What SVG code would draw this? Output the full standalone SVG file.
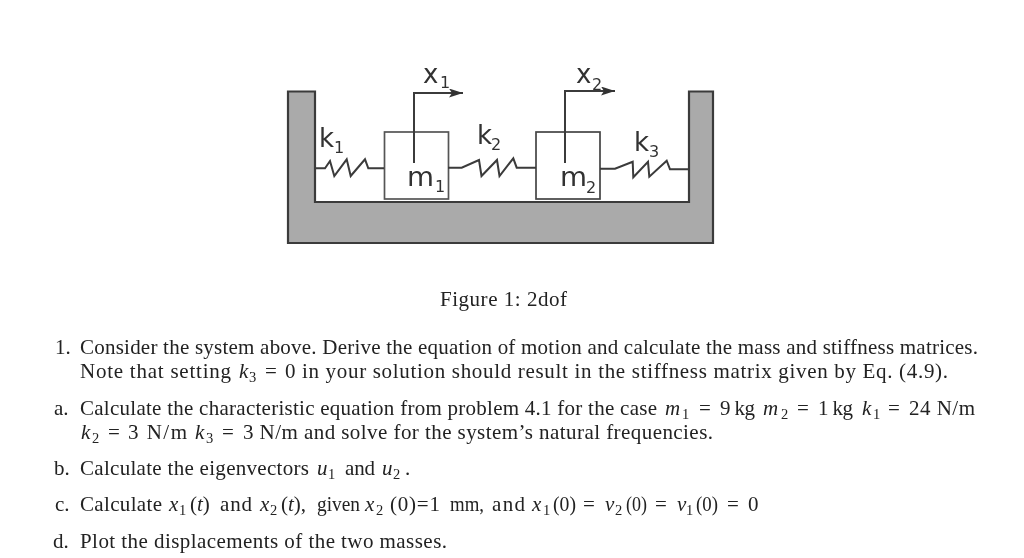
<svg xmlns="http://www.w3.org/2000/svg" width="1024" height="558" viewBox="0 0 1024 558">
<defs>
<filter id="soft" x="-5%" y="-5%" width="110%" height="110%"><feGaussianBlur stdDeviation="0.45"/></filter>
<marker id="arrow" markerUnits="userSpaceOnUse" markerWidth="16" markerHeight="10" refX="14" refY="4.500" orient="auto"><path d="M0,0 L14,4.500 L0,9 L3,4.500 Z" fill="#333"/></marker>
</defs>
<style>
.t{font-family:"Liberation Serif","Times New Roman",serif;font-size:21px;fill:#222}
.i{font-style:italic}
.s{font-family:"Liberation Serif","Times New Roman",serif;font-size:14.5px;fill:#222}
.l{font-family:"DejaVu Sans",sans-serif;font-size:26px;fill:#333}
.ls{font-family:"DejaVu Sans",sans-serif;font-size:16px;fill:#333}
.w{fill:none;stroke:#3a3a3a;stroke-width:2}
</style>
<rect width="1024" height="558" fill="#fff"/>
<g filter="url(#soft)">
<g id="frame"><path d="M288,91.500H315V202H689V91.500H713V243H288Z" fill="#aaa" stroke="#3a3a3a" stroke-width="2.200"/></g>
<g id="mass1"><rect x="384.500" y="132" width="64" height="67" fill="#fff" stroke="#555" stroke-width="1.700"/><text class="l" x="407" y="186" textLength="27" lengthAdjust="spacingAndGlyphs">m</text><text class="ls" x="435" y="192">1</text></g>
<g id="mass2"><rect x="536" y="132" width="64" height="67" fill="#fff" stroke="#444" stroke-width="1.700"/><text class="l" x="560" y="186" textLength="27" lengthAdjust="spacingAndGlyphs">m</text><text class="ls" x="586" y="193">2</text></g>
<g id="connectors">
<path class="w" d="M414,163V93H463" marker-end="url(#arrow)"/>
<path class="w" d="M565,163V91H615" marker-end="url(#arrow)"/>
<path class="w" d="M316,168.300H325L330,161L334.300,176L346.700,159.300L350.700,176L365,159.300L368.300,168.300H384"/>
<path class="w" d="M448,167.700H461.700L479,160L481.500,176L497,160L499.500,176L513.300,158.300L516.700,167.700H536"/>
<path class="w" d="M600,168.700H615L632.700,161.700L633.300,177.300L648,161.700L649.300,176.700L666.700,160.700L670,169.300H689"/>
</g>
<g id="label-x1"><text class="l" x="423" y="83">x</text><text class="ls" x="440" y="88">1</text></g>
<g id="label-x2"><text class="l" x="576" y="83">x</text><text class="ls" x="592" y="90">2</text></g>
<g id="label-k1"><text class="l" x="319" y="147">k</text><text class="ls" x="334" y="153">1</text></g>
<g id="label-k2"><text class="l" x="477" y="144">k</text><text class="ls" x="491" y="150">2</text></g>
<g id="label-k3"><text class="l" x="634" y="151">k</text><text class="ls" x="649" y="157">3</text></g>
</g>
<g id="text" filter="url(#soft)" transform="translate(0,0.7)">
<text class="t" x="440" y="305" textLength="127">Figure 1: 2dof</text>

<text class="t" x="55" y="353">1.</text>
<text class="t" x="80" y="353" textLength="898">Consider the system above. Derive the equation of motion and calculate the mass and stiffness matrices.</text>

<text class="t" x="80" y="377" textLength="151">Note that setting</text>
<text class="t i" x="239" y="377">k</text><text class="s" x="249" y="381">3</text>
<text class="t" x="265" y="377">=</text><text class="t" x="285" y="377">0</text>
<text class="t" x="302" y="377" textLength="646">in your solution should result in the stiffness matrix given by Eq. (4.9).</text>

<text class="t" x="54" y="414">a.</text>
<text class="t" x="80" y="414" textLength="577">Calculate the characteristic equation from problem 4.1 for the case</text>
<text class="t i" x="665" y="414">m</text><text class="s" x="682" y="418">1</text>
<text class="t" x="699" y="414">=</text><text class="t" x="720" y="414" textLength="35">9 kg</text>
<text class="t i" x="763" y="414">m</text><text class="s" x="781" y="418">2</text>
<text class="t" x="797" y="414">=</text><text class="t" x="818" y="414" textLength="35">1 kg</text>
<text class="t i" x="862" y="414">k</text><text class="s" x="873" y="418">1</text>
<text class="t" x="888" y="414">=</text><text class="t" x="909" y="414" textLength="66">24 N/m</text>

<text class="t i" x="81" y="438">k</text><text class="s" x="92" y="442">2</text>
<text class="t" x="108" y="438">=</text><text class="t" x="128" y="438" textLength="59">3 N/m</text>
<text class="t i" x="195" y="438">k</text><text class="s" x="206" y="442">3</text>
<text class="t" x="222" y="438">=</text>
<text class="t" x="243" y="438" textLength="470">3 N/m and solve for the system’s natural frequencies.</text>

<text class="t" x="54" y="474">b.</text>
<text class="t" x="80" y="474" textLength="229">Calculate the eigenvectors</text>
<text class="t i" x="317" y="474">u</text><text class="s" x="328" y="478">1</text>
<text class="t" x="345" y="474" textLength="30">and</text>
<text class="t i" x="382" y="474">u</text><text class="s" x="393" y="478">2</text>
<text class="t" x="405" y="474">.</text>

<text class="t" x="55" y="510">c.</text>
<text class="t" x="80" y="510" textLength="82">Calculate</text>
<text class="t i" x="169" y="510">x</text><text class="s" x="179" y="514">1</text>
<text class="t" x="190" y="510">(<tspan class="i">t</tspan>)</text>
<text class="t" x="220" y="510" textLength="32">and</text>
<text class="t i" x="260" y="510">x</text><text class="s" x="270" y="514">2</text>
<text class="t" x="281" y="510">(<tspan class="i">t</tspan>),</text>
<text class="t" x="317" y="510" textLength="43" lengthAdjust="spacingAndGlyphs">given</text>
<text class="t i" x="365" y="510">x</text><text class="s" x="376" y="514">2</text>
<text class="t" x="390" y="510" textLength="50">(0)=1</text>
<text class="t" x="450" y="510" textLength="34" lengthAdjust="spacingAndGlyphs">mm,</text>
<text class="t" x="492" y="510" textLength="33">and</text>
<text class="t i" x="532" y="510">x</text><text class="s" x="543" y="514">1</text>
<text class="t" x="553" y="510" textLength="23" lengthAdjust="spacingAndGlyphs">(0)</text>
<text class="t" x="583" y="510">=</text>
<text class="t i" x="605" y="510">v</text><text class="s" x="615" y="514">2</text>
<text class="t" x="626" y="510" textLength="21" lengthAdjust="spacingAndGlyphs">(0)</text>
<text class="t" x="655" y="510">=</text>
<text class="t i" x="677" y="510">v</text><text class="s" x="686" y="514">1</text>
<text class="t" x="696" y="510" textLength="22" lengthAdjust="spacingAndGlyphs">(0)</text>
<text class="t" x="727" y="510">=</text>
<text class="t" x="748" y="510">0</text>

<text class="t" x="53" y="547">d.</text>
<text class="t" x="80" y="547" textLength="367">Plot the displacements of the two masses.</text>
</g>
</svg>
